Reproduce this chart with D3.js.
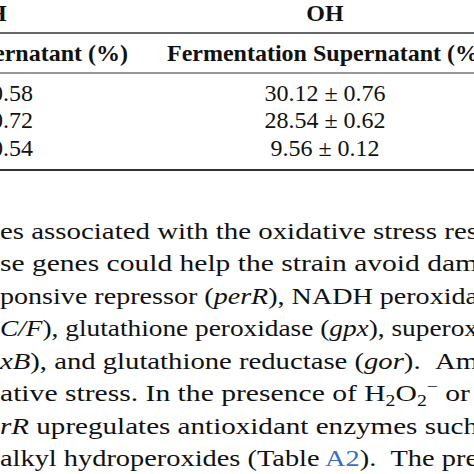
<!DOCTYPE html>
<html><head><meta charset="utf-8">
<script src="https://cdn.jsdelivr.net/npm/d3@7"></script>
<style>body{margin:0;background:#fff}svg{display:block}</style>
</head><body><svg id="c" width="474" height="474"></svg>
<script>
const leftValues = ["0.58", "0.72", "0.54"];
const ohValues = ["30.12 \u00b1 0.76", "28.54 \u00b1 0.62", "9.56 \u00b1 0.12"];
const headers = ["ernatant (%)", "Fermentation Supernatant (%)"];
const paragraph = [
  [["es associated with the oxidative stress res", ""]],
  [["se genes could help the strain avoid dam", ""]],
  [["ponsive repressor (", ""], ["perR", "i"], ["), NADH peroxida", ""]],
  [["C/F", "i"], ["), glutathione peroxidase (", ""], ["gpx", "i"], ["), superox", ""]],
  [["xB", "i"], ["), and glutathione reductase (", ""], ["gor", "i"], ["). \u00a0Am", ""]],
  [["ative stress. In the presence of H", ""], ["2", "sub"], ["O", ""], ["2", "sub"], ["\u2212", "sup"], [" or", ""]],
  [["rR", "i"], [" upregulates antioxidant enzymes such", ""]],
  [["alkyl hydroperoxides (Table ", ""], ["A2", "link"], ["). \u00a0The pre", ""]]
];
const lineWidths = [478, 478, 478, 478, 478, 470, 478, 478];

const svg = d3.select("#c");
const font = "'Liberation Serif', 'DejaVu Serif', serif";
const g = svg.append("g").attr("font-family", font).attr("fill", "#111");

g.append("text").attr("x", -12).attr("y", 21).attr("font-size", 24).attr("font-weight", "bold").text("H");
g.append("text").attr("x", 325).attr("y", 21).attr("text-anchor", "middle").attr("font-size", 24).attr("font-weight", "bold").text("OH");

const rule = (y, w) => g.append("line").attr("x1", 0).attr("x2", 474).attr("y1", y).attr("y2", y).attr("stroke", "#333").attr("stroke-width", w);
rule(33, 1.5); rule(73, 1.2); rule(170, 2);

g.append("text").attr("x", 128).attr("y", 61).attr("text-anchor", "end").attr("font-size", 24).attr("font-weight", "bold").text(headers[0]);
g.append("text").attr("x", 167).attr("y", 61).attr("font-size", 24).attr("font-weight", "bold").text(headers[1]);

const rowY = d3.scaleBand().domain(d3.range(ohValues.length)).range([80, 162]);
g.selectAll(".lv").data(leftValues).enter().append("text")
  .attr("x", 33).attr("y", (d, i) => rowY(i) + 21).attr("text-anchor", "end").attr("font-size", 24).text(d => d);
g.selectAll(".ov").data(ohValues).enter().append("text")
  .attr("x", 325).attr("y", (d, i) => rowY(i) + 21).attr("text-anchor", "middle").attr("font-size", 24).text(d => d);

const lineY = d3.scaleLinear().domain([0, 7]).range([239, 466]);
paragraph.forEach((parts, i) => {
  const t = g.append("text").attr("x", 0).attr("y", lineY(i)).attr("font-size", 24)
    .attr("textLength", lineWidths[i]).attr("lengthAdjust", "spacingAndGlyphs");
  let prevKind = null;
  parts.forEach(([s, kind]) => {
    const sp = t.append("tspan").text(s);
    if (kind === "i") sp.attr("font-style", "italic");
    if (kind === "link") sp.attr("fill", "#3b6fc4");
    if (kind === "sub") sp.attr("font-size", 16).attr("dy", prevKind === "sub" ? 0 : 5);
    if (kind === "sup") sp.attr("font-size", 16).attr("dy", prevKind === "sub" ? -14 : -9);
    if (kind !== "sub" && kind !== "sup") {
      if (prevKind === "sub") sp.attr("dy", -5);
      if (prevKind === "sup") sp.attr("dy", 9);
    }
    prevKind = kind;
  });
});
</script></body></html>
